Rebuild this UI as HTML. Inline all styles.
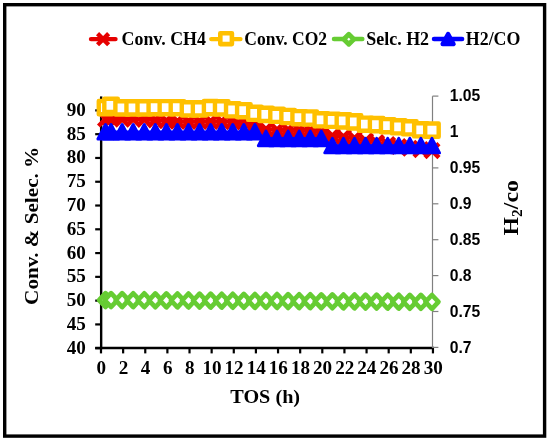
<!DOCTYPE html>
<html><head><meta charset="utf-8"><title>Chart</title>
<style>
html,body{margin:0;padding:0;background:#fff;}
body{width:550px;height:442px;overflow:hidden;}
svg{display:block}
text{font-family:"Liberation Serif",serif;font-weight:bold;fill:#000}
.yl{font-size:18px}
.xl{font-size:18px}
.rl{font-family:"Liberation Sans",sans-serif;font-size:15.7px}
.lg{font-size:17.8px}
.yt{font-size:19.3px}
.xt{font-size:19.5px}
.rt{font-size:21.5px}
</style></head><body>
<svg width="550" height="442" viewBox="0 0 550 442">
<rect x="0" y="0" width="550" height="442" fill="#fff"/>
<rect x="4.7" y="4.7" width="539.9" height="431.4" fill="none" stroke="#000" stroke-width="3.4"/>
<line x1="101.15" y1="96.4" x2="101.15" y2="349.2" stroke="#000" stroke-width="2.4"/>
<line x1="95.2" y1="348.0" x2="433.9" y2="348.0" stroke="#000" stroke-width="2.4"/>
<line x1="95.2" y1="348.20" x2="101.2" y2="348.20" stroke="#000" stroke-width="2.2"/>
<text x="66.7" y="353.70" textLength="19.1" lengthAdjust="spacingAndGlyphs" class="yl">40</text>
<line x1="95.2" y1="324.42" x2="101.2" y2="324.42" stroke="#000" stroke-width="2.2"/>
<text x="66.7" y="329.92" textLength="19.1" lengthAdjust="spacingAndGlyphs" class="yl">45</text>
<line x1="95.2" y1="300.64" x2="101.2" y2="300.64" stroke="#000" stroke-width="2.2"/>
<text x="66.7" y="306.14" textLength="19.1" lengthAdjust="spacingAndGlyphs" class="yl">50</text>
<line x1="95.2" y1="276.86" x2="101.2" y2="276.86" stroke="#000" stroke-width="2.2"/>
<text x="66.7" y="282.36" textLength="19.1" lengthAdjust="spacingAndGlyphs" class="yl">55</text>
<line x1="95.2" y1="253.08" x2="101.2" y2="253.08" stroke="#000" stroke-width="2.2"/>
<text x="66.7" y="258.58" textLength="19.1" lengthAdjust="spacingAndGlyphs" class="yl">60</text>
<line x1="95.2" y1="229.30" x2="101.2" y2="229.30" stroke="#000" stroke-width="2.2"/>
<text x="66.7" y="234.80" textLength="19.1" lengthAdjust="spacingAndGlyphs" class="yl">65</text>
<line x1="95.2" y1="205.52" x2="101.2" y2="205.52" stroke="#000" stroke-width="2.2"/>
<text x="66.7" y="211.02" textLength="19.1" lengthAdjust="spacingAndGlyphs" class="yl">70</text>
<line x1="95.2" y1="181.74" x2="101.2" y2="181.74" stroke="#000" stroke-width="2.2"/>
<text x="66.7" y="187.24" textLength="19.1" lengthAdjust="spacingAndGlyphs" class="yl">75</text>
<line x1="95.2" y1="157.96" x2="101.2" y2="157.96" stroke="#000" stroke-width="2.2"/>
<text x="66.7" y="163.46" textLength="19.1" lengthAdjust="spacingAndGlyphs" class="yl">80</text>
<line x1="95.2" y1="134.18" x2="101.2" y2="134.18" stroke="#000" stroke-width="2.2"/>
<text x="66.7" y="139.68" textLength="19.1" lengthAdjust="spacingAndGlyphs" class="yl">85</text>
<line x1="95.2" y1="110.40" x2="101.2" y2="110.40" stroke="#000" stroke-width="2.2"/>
<text x="66.7" y="115.90" textLength="19.1" lengthAdjust="spacingAndGlyphs" class="yl">90</text>
<line x1="101.00" y1="348.2" x2="101.00" y2="353.4" stroke="#000" stroke-width="2.2"/>
<text x="96.52" y="373.6" textLength="9.55" lengthAdjust="spacingAndGlyphs" class="xl">0</text>
<line x1="123.13" y1="348.2" x2="123.13" y2="353.4" stroke="#000" stroke-width="2.2"/>
<text x="118.65" y="373.6" textLength="9.55" lengthAdjust="spacingAndGlyphs" class="xl">2</text>
<line x1="145.26" y1="348.2" x2="145.26" y2="353.4" stroke="#000" stroke-width="2.2"/>
<text x="140.78" y="373.6" textLength="9.55" lengthAdjust="spacingAndGlyphs" class="xl">4</text>
<line x1="167.39" y1="348.2" x2="167.39" y2="353.4" stroke="#000" stroke-width="2.2"/>
<text x="162.91" y="373.6" textLength="9.55" lengthAdjust="spacingAndGlyphs" class="xl">6</text>
<line x1="189.52" y1="348.2" x2="189.52" y2="353.4" stroke="#000" stroke-width="2.2"/>
<text x="185.04" y="373.6" textLength="9.55" lengthAdjust="spacingAndGlyphs" class="xl">8</text>
<line x1="211.65" y1="348.2" x2="211.65" y2="353.4" stroke="#000" stroke-width="2.2"/>
<text x="202.40" y="373.6" textLength="19.10" lengthAdjust="spacingAndGlyphs" class="xl">10</text>
<line x1="233.78" y1="348.2" x2="233.78" y2="353.4" stroke="#000" stroke-width="2.2"/>
<text x="224.53" y="373.6" textLength="19.10" lengthAdjust="spacingAndGlyphs" class="xl">12</text>
<line x1="255.91" y1="348.2" x2="255.91" y2="353.4" stroke="#000" stroke-width="2.2"/>
<text x="246.66" y="373.6" textLength="19.10" lengthAdjust="spacingAndGlyphs" class="xl">14</text>
<line x1="278.04" y1="348.2" x2="278.04" y2="353.4" stroke="#000" stroke-width="2.2"/>
<text x="268.79" y="373.6" textLength="19.10" lengthAdjust="spacingAndGlyphs" class="xl">16</text>
<line x1="300.17" y1="348.2" x2="300.17" y2="353.4" stroke="#000" stroke-width="2.2"/>
<text x="290.92" y="373.6" textLength="19.10" lengthAdjust="spacingAndGlyphs" class="xl">18</text>
<line x1="322.30" y1="348.2" x2="322.30" y2="353.4" stroke="#000" stroke-width="2.2"/>
<text x="313.05" y="373.6" textLength="19.10" lengthAdjust="spacingAndGlyphs" class="xl">20</text>
<line x1="344.43" y1="348.2" x2="344.43" y2="353.4" stroke="#000" stroke-width="2.2"/>
<text x="335.18" y="373.6" textLength="19.10" lengthAdjust="spacingAndGlyphs" class="xl">22</text>
<line x1="366.56" y1="348.2" x2="366.56" y2="353.4" stroke="#000" stroke-width="2.2"/>
<text x="357.31" y="373.6" textLength="19.10" lengthAdjust="spacingAndGlyphs" class="xl">24</text>
<line x1="388.69" y1="348.2" x2="388.69" y2="353.4" stroke="#000" stroke-width="2.2"/>
<text x="379.44" y="373.6" textLength="19.10" lengthAdjust="spacingAndGlyphs" class="xl">26</text>
<line x1="410.82" y1="348.2" x2="410.82" y2="353.4" stroke="#000" stroke-width="2.2"/>
<text x="401.57" y="373.6" textLength="19.10" lengthAdjust="spacingAndGlyphs" class="xl">28</text>
<line x1="432.95" y1="348.2" x2="432.95" y2="353.4" stroke="#000" stroke-width="2.2"/>
<text x="423.70" y="373.6" textLength="19.10" lengthAdjust="spacingAndGlyphs" class="xl">30</text>
<line x1="432.5" y1="96.2" x2="432.5" y2="348" stroke="#808080" stroke-width="1.2"/>
<line x1="432.5" y1="347.40" x2="438.4" y2="347.40" stroke="#808080" stroke-width="1.2"/>
<text x="449.7" y="352.60" class="rl">0.7</text>
<line x1="432.5" y1="311.50" x2="438.4" y2="311.50" stroke="#808080" stroke-width="1.2"/>
<text x="449.7" y="316.60" class="rl">0.75</text>
<line x1="432.5" y1="275.60" x2="438.4" y2="275.60" stroke="#808080" stroke-width="1.2"/>
<text x="449.7" y="280.60" class="rl">0.8</text>
<line x1="432.5" y1="239.70" x2="438.4" y2="239.70" stroke="#808080" stroke-width="1.2"/>
<text x="449.7" y="244.60" class="rl">0.85</text>
<line x1="432.5" y1="203.80" x2="438.4" y2="203.80" stroke="#808080" stroke-width="1.2"/>
<text x="449.7" y="208.60" class="rl">0.9</text>
<line x1="432.5" y1="167.90" x2="438.4" y2="167.90" stroke="#808080" stroke-width="1.2"/>
<text x="449.7" y="172.60" class="rl">0.95</text>
<line x1="432.5" y1="132.00" x2="438.4" y2="132.00" stroke="#808080" stroke-width="1.2"/>
<text x="449.7" y="136.60" class="rl">1</text>
<line x1="432.5" y1="96.10" x2="438.4" y2="96.10" stroke="#808080" stroke-width="1.2"/>
<text x="449.7" y="100.60" class="rl">1.05</text>
<polyline points="105.53,119.00 111.06,119.00 122.13,119.10 133.19,119.20 144.26,119.40 155.32,119.90 166.39,120.70 177.45,121.30 188.52,121.40 199.58,121.40 210.65,121.40 221.71,121.40 232.78,121.60 243.84,122.00 254.91,124.80 265.98,129.30 277.04,129.70 288.11,129.70 299.17,129.70 310.24,130.00 321.30,131.50 332.37,135.80 343.43,136.80 354.50,138.30 365.56,140.70 376.62,142.60 387.69,144.50 398.75,146.50 409.82,148.20 420.88,149.60 431.95,150.60" fill="none" stroke="#E60000" stroke-width="4.4" stroke-linejoin="round"/>
<path d="M98.53 112.00L112.53 126.00M98.53 126.00L112.53 112.00M104.06 112.00L118.06 126.00M104.06 126.00L118.06 112.00M115.13 112.10L129.13 126.10M115.13 126.10L129.13 112.10M126.19 112.20L140.19 126.20M126.19 126.20L140.19 112.20M137.26 112.40L151.26 126.40M137.26 126.40L151.26 112.40M148.32 112.90L162.32 126.90M148.32 126.90L162.32 112.90M159.39 113.70L173.39 127.70M159.39 127.70L173.39 113.70M170.45 114.30L184.45 128.30M170.45 128.30L184.45 114.30M181.52 114.40L195.52 128.40M181.52 128.40L195.52 114.40M192.58 114.40L206.58 128.40M192.58 128.40L206.58 114.40M203.65 114.40L217.65 128.40M203.65 128.40L217.65 114.40M214.71 114.40L228.71 128.40M214.71 128.40L228.71 114.40M225.78 114.60L239.78 128.60M225.78 128.60L239.78 114.60M236.84 115.00L250.84 129.00M236.84 129.00L250.84 115.00M247.91 117.80L261.91 131.80M247.91 131.80L261.91 117.80M258.98 122.30L272.98 136.30M258.98 136.30L272.98 122.30M270.04 122.70L284.04 136.70M270.04 136.70L284.04 122.70M281.11 122.70L295.11 136.70M281.11 136.70L295.11 122.70M292.17 122.70L306.17 136.70M292.17 136.70L306.17 122.70M303.24 123.00L317.24 137.00M303.24 137.00L317.24 123.00M314.30 124.50L328.30 138.50M314.30 138.50L328.30 124.50M325.37 128.80L339.37 142.80M325.37 142.80L339.37 128.80M336.43 129.80L350.43 143.80M336.43 143.80L350.43 129.80M347.50 131.30L361.50 145.30M347.50 145.30L361.50 131.30M358.56 133.70L372.56 147.70M358.56 147.70L372.56 133.70M369.62 135.60L383.62 149.60M369.62 149.60L383.62 135.60M380.69 137.50L394.69 151.50M380.69 151.50L394.69 137.50M391.75 139.50L405.75 153.50M391.75 153.50L405.75 139.50M402.82 141.20L416.82 155.20M402.82 155.20L416.82 141.20M413.88 142.60L427.88 156.60M413.88 156.60L427.88 142.60M424.95 143.60L438.95 157.60M424.95 157.60L438.95 143.60" fill="none" stroke="#E60000" stroke-width="4.4" stroke-linecap="butt"/>
<polyline points="105.53,107.60 111.06,105.40 122.13,107.90 133.19,107.90 144.26,107.90 155.32,107.70 166.39,107.70 177.45,107.70 188.52,108.90 199.58,108.90 210.65,107.60 221.71,107.90 232.78,109.80 243.84,110.70 254.91,113.30 265.98,114.40 277.04,115.30 288.11,116.50 299.17,117.70 310.24,118.00 321.30,119.80 332.37,120.30 343.43,120.90 354.50,121.90 365.56,124.20 376.62,124.60 387.69,125.70 398.75,126.80 409.82,127.80 420.88,129.80 431.95,130.10" fill="none" stroke="#FFC000" stroke-width="4.4"/>
<rect x="98.78" y="101.00" width="13.50" height="13.20" fill="#fff" stroke="#FFC000" stroke-width="4.4" stroke-linejoin="round"/>
<rect x="104.31" y="98.80" width="13.50" height="13.20" fill="#fff" stroke="#FFC000" stroke-width="4.4" stroke-linejoin="round"/>
<rect x="115.38" y="101.30" width="13.50" height="13.20" fill="#fff" stroke="#FFC000" stroke-width="4.4" stroke-linejoin="round"/>
<rect x="126.44" y="101.30" width="13.50" height="13.20" fill="#fff" stroke="#FFC000" stroke-width="4.4" stroke-linejoin="round"/>
<rect x="137.51" y="101.30" width="13.50" height="13.20" fill="#fff" stroke="#FFC000" stroke-width="4.4" stroke-linejoin="round"/>
<rect x="148.57" y="101.10" width="13.50" height="13.20" fill="#fff" stroke="#FFC000" stroke-width="4.4" stroke-linejoin="round"/>
<rect x="159.64" y="101.10" width="13.50" height="13.20" fill="#fff" stroke="#FFC000" stroke-width="4.4" stroke-linejoin="round"/>
<rect x="170.70" y="101.10" width="13.50" height="13.20" fill="#fff" stroke="#FFC000" stroke-width="4.4" stroke-linejoin="round"/>
<rect x="181.77" y="102.30" width="13.50" height="13.20" fill="#fff" stroke="#FFC000" stroke-width="4.4" stroke-linejoin="round"/>
<rect x="192.83" y="102.30" width="13.50" height="13.20" fill="#fff" stroke="#FFC000" stroke-width="4.4" stroke-linejoin="round"/>
<rect x="203.90" y="101.00" width="13.50" height="13.20" fill="#fff" stroke="#FFC000" stroke-width="4.4" stroke-linejoin="round"/>
<rect x="214.96" y="101.30" width="13.50" height="13.20" fill="#fff" stroke="#FFC000" stroke-width="4.4" stroke-linejoin="round"/>
<rect x="226.03" y="103.20" width="13.50" height="13.20" fill="#fff" stroke="#FFC000" stroke-width="4.4" stroke-linejoin="round"/>
<rect x="237.09" y="104.10" width="13.50" height="13.20" fill="#fff" stroke="#FFC000" stroke-width="4.4" stroke-linejoin="round"/>
<rect x="248.16" y="106.70" width="13.50" height="13.20" fill="#fff" stroke="#FFC000" stroke-width="4.4" stroke-linejoin="round"/>
<rect x="259.23" y="107.80" width="13.50" height="13.20" fill="#fff" stroke="#FFC000" stroke-width="4.4" stroke-linejoin="round"/>
<rect x="270.29" y="108.70" width="13.50" height="13.20" fill="#fff" stroke="#FFC000" stroke-width="4.4" stroke-linejoin="round"/>
<rect x="281.36" y="109.90" width="13.50" height="13.20" fill="#fff" stroke="#FFC000" stroke-width="4.4" stroke-linejoin="round"/>
<rect x="292.42" y="111.10" width="13.50" height="13.20" fill="#fff" stroke="#FFC000" stroke-width="4.4" stroke-linejoin="round"/>
<rect x="303.49" y="111.40" width="13.50" height="13.20" fill="#fff" stroke="#FFC000" stroke-width="4.4" stroke-linejoin="round"/>
<rect x="314.55" y="113.20" width="13.50" height="13.20" fill="#fff" stroke="#FFC000" stroke-width="4.4" stroke-linejoin="round"/>
<rect x="325.62" y="113.70" width="13.50" height="13.20" fill="#fff" stroke="#FFC000" stroke-width="4.4" stroke-linejoin="round"/>
<rect x="336.68" y="114.30" width="13.50" height="13.20" fill="#fff" stroke="#FFC000" stroke-width="4.4" stroke-linejoin="round"/>
<rect x="347.75" y="115.30" width="13.50" height="13.20" fill="#fff" stroke="#FFC000" stroke-width="4.4" stroke-linejoin="round"/>
<rect x="358.81" y="117.60" width="13.50" height="13.20" fill="#fff" stroke="#FFC000" stroke-width="4.4" stroke-linejoin="round"/>
<rect x="369.88" y="118.00" width="13.50" height="13.20" fill="#fff" stroke="#FFC000" stroke-width="4.4" stroke-linejoin="round"/>
<rect x="380.94" y="119.10" width="13.50" height="13.20" fill="#fff" stroke="#FFC000" stroke-width="4.4" stroke-linejoin="round"/>
<rect x="392.00" y="120.20" width="13.50" height="13.20" fill="#fff" stroke="#FFC000" stroke-width="4.4" stroke-linejoin="round"/>
<rect x="403.07" y="121.20" width="13.50" height="13.20" fill="#fff" stroke="#FFC000" stroke-width="4.4" stroke-linejoin="round"/>
<rect x="414.13" y="123.20" width="13.50" height="13.20" fill="#fff" stroke="#FFC000" stroke-width="4.4" stroke-linejoin="round"/>
<rect x="425.20" y="123.50" width="13.50" height="13.20" fill="#fff" stroke="#FFC000" stroke-width="4.4" stroke-linejoin="round"/>
<polyline points="105.53,300.03 111.06,300.06 122.13,300.13 133.19,300.19 144.26,300.25 155.32,300.32 166.39,300.38 177.45,300.44 188.52,300.51 199.58,300.57 210.65,300.63 221.71,300.70 232.78,300.76 243.84,300.82 254.91,300.89 265.98,300.95 277.04,301.01 288.11,301.08 299.17,301.14 310.24,301.20 321.30,301.27 332.37,301.33 343.43,301.39 354.50,301.46 365.56,301.52 376.62,301.58 387.69,301.65 398.75,301.71 409.82,301.77 420.88,301.84 431.95,301.90" fill="none" stroke="#66CC33" stroke-width="4.4"/>
<polygon points="99.03,300.03 105.53,293.13 112.03,300.03 105.53,306.93" fill="#fff" stroke="#66CC33" stroke-width="4.7" stroke-linejoin="round"/>
<polygon points="104.56,300.06 111.06,293.16 117.56,300.06 111.06,306.96" fill="#fff" stroke="#66CC33" stroke-width="4.7" stroke-linejoin="round"/>
<polygon points="115.63,300.13 122.13,293.23 128.63,300.13 122.13,307.03" fill="#fff" stroke="#66CC33" stroke-width="4.7" stroke-linejoin="round"/>
<polygon points="126.69,300.19 133.19,293.29 139.69,300.19 133.19,307.09" fill="#fff" stroke="#66CC33" stroke-width="4.7" stroke-linejoin="round"/>
<polygon points="137.76,300.25 144.26,293.35 150.76,300.25 144.26,307.15" fill="#fff" stroke="#66CC33" stroke-width="4.7" stroke-linejoin="round"/>
<polygon points="148.82,300.32 155.32,293.42 161.82,300.32 155.32,307.22" fill="#fff" stroke="#66CC33" stroke-width="4.7" stroke-linejoin="round"/>
<polygon points="159.89,300.38 166.39,293.48 172.89,300.38 166.39,307.28" fill="#fff" stroke="#66CC33" stroke-width="4.7" stroke-linejoin="round"/>
<polygon points="170.95,300.44 177.45,293.54 183.95,300.44 177.45,307.34" fill="#fff" stroke="#66CC33" stroke-width="4.7" stroke-linejoin="round"/>
<polygon points="182.02,300.51 188.52,293.61 195.02,300.51 188.52,307.41" fill="#fff" stroke="#66CC33" stroke-width="4.7" stroke-linejoin="round"/>
<polygon points="193.08,300.57 199.58,293.67 206.08,300.57 199.58,307.47" fill="#fff" stroke="#66CC33" stroke-width="4.7" stroke-linejoin="round"/>
<polygon points="204.15,300.63 210.65,293.73 217.15,300.63 210.65,307.53" fill="#fff" stroke="#66CC33" stroke-width="4.7" stroke-linejoin="round"/>
<polygon points="215.21,300.70 221.71,293.80 228.21,300.70 221.71,307.60" fill="#fff" stroke="#66CC33" stroke-width="4.7" stroke-linejoin="round"/>
<polygon points="226.28,300.76 232.78,293.86 239.28,300.76 232.78,307.66" fill="#fff" stroke="#66CC33" stroke-width="4.7" stroke-linejoin="round"/>
<polygon points="237.34,300.82 243.84,293.92 250.34,300.82 243.84,307.72" fill="#fff" stroke="#66CC33" stroke-width="4.7" stroke-linejoin="round"/>
<polygon points="248.41,300.89 254.91,293.99 261.41,300.89 254.91,307.79" fill="#fff" stroke="#66CC33" stroke-width="4.7" stroke-linejoin="round"/>
<polygon points="259.48,300.95 265.98,294.05 272.48,300.95 265.98,307.85" fill="#fff" stroke="#66CC33" stroke-width="4.7" stroke-linejoin="round"/>
<polygon points="270.54,301.01 277.04,294.11 283.54,301.01 277.04,307.91" fill="#fff" stroke="#66CC33" stroke-width="4.7" stroke-linejoin="round"/>
<polygon points="281.61,301.08 288.11,294.18 294.61,301.08 288.11,307.98" fill="#fff" stroke="#66CC33" stroke-width="4.7" stroke-linejoin="round"/>
<polygon points="292.67,301.14 299.17,294.24 305.67,301.14 299.17,308.04" fill="#fff" stroke="#66CC33" stroke-width="4.7" stroke-linejoin="round"/>
<polygon points="303.74,301.20 310.24,294.30 316.74,301.20 310.24,308.10" fill="#fff" stroke="#66CC33" stroke-width="4.7" stroke-linejoin="round"/>
<polygon points="314.80,301.27 321.30,294.37 327.80,301.27 321.30,308.17" fill="#fff" stroke="#66CC33" stroke-width="4.7" stroke-linejoin="round"/>
<polygon points="325.87,301.33 332.37,294.43 338.87,301.33 332.37,308.23" fill="#fff" stroke="#66CC33" stroke-width="4.7" stroke-linejoin="round"/>
<polygon points="336.93,301.39 343.43,294.49 349.93,301.39 343.43,308.29" fill="#fff" stroke="#66CC33" stroke-width="4.7" stroke-linejoin="round"/>
<polygon points="348.00,301.46 354.50,294.56 361.00,301.46 354.50,308.36" fill="#fff" stroke="#66CC33" stroke-width="4.7" stroke-linejoin="round"/>
<polygon points="359.06,301.52 365.56,294.62 372.06,301.52 365.56,308.42" fill="#fff" stroke="#66CC33" stroke-width="4.7" stroke-linejoin="round"/>
<polygon points="370.12,301.58 376.62,294.68 383.12,301.58 376.62,308.48" fill="#fff" stroke="#66CC33" stroke-width="4.7" stroke-linejoin="round"/>
<polygon points="381.19,301.65 387.69,294.75 394.19,301.65 387.69,308.55" fill="#fff" stroke="#66CC33" stroke-width="4.7" stroke-linejoin="round"/>
<polygon points="392.25,301.71 398.75,294.81 405.25,301.71 398.75,308.61" fill="#fff" stroke="#66CC33" stroke-width="4.7" stroke-linejoin="round"/>
<polygon points="403.32,301.77 409.82,294.87 416.32,301.77 409.82,308.67" fill="#fff" stroke="#66CC33" stroke-width="4.7" stroke-linejoin="round"/>
<polygon points="414.38,301.84 420.88,294.94 427.38,301.84 420.88,308.74" fill="#fff" stroke="#66CC33" stroke-width="4.7" stroke-linejoin="round"/>
<polygon points="425.45,301.90 431.95,295.00 438.45,301.90 431.95,308.80" fill="#fff" stroke="#66CC33" stroke-width="4.7" stroke-linejoin="round"/>
<polyline points="105.53,131.80 111.06,131.80 122.13,131.80 133.19,131.80 144.26,131.80 155.32,131.80 166.39,131.80 177.45,131.80 188.52,131.80 199.58,131.80 210.65,131.80 221.71,131.80 232.78,131.80 243.84,131.80 254.91,131.80 265.98,138.40 277.04,138.40 288.11,138.40 299.17,138.40 310.24,138.40 321.30,138.40 332.37,145.60 343.43,145.60 354.50,145.60 365.56,145.60 376.62,145.60 387.69,145.60 398.75,145.60 409.82,145.60 420.88,145.60 431.95,145.60" fill="none" stroke="#0000FF" stroke-width="2.6"/>
<polygon points="105.53,124.55 113.13,139.05 97.93,139.05" fill="#0000FF" stroke="#0000FF" stroke-width="3.0" stroke-linejoin="round"/>
<polygon points="111.06,124.55 118.66,139.05 103.47,139.05" fill="#0000FF" stroke="#0000FF" stroke-width="3.0" stroke-linejoin="round"/>
<polygon points="122.13,124.55 129.73,139.05 114.53,139.05" fill="#0000FF" stroke="#0000FF" stroke-width="3.0" stroke-linejoin="round"/>
<polygon points="133.19,124.55 140.79,139.05 125.59,139.05" fill="#0000FF" stroke="#0000FF" stroke-width="3.0" stroke-linejoin="round"/>
<polygon points="144.26,124.55 151.86,139.05 136.66,139.05" fill="#0000FF" stroke="#0000FF" stroke-width="3.0" stroke-linejoin="round"/>
<polygon points="155.32,124.55 162.92,139.05 147.72,139.05" fill="#0000FF" stroke="#0000FF" stroke-width="3.0" stroke-linejoin="round"/>
<polygon points="166.39,124.55 173.99,139.05 158.79,139.05" fill="#0000FF" stroke="#0000FF" stroke-width="3.0" stroke-linejoin="round"/>
<polygon points="177.45,124.55 185.05,139.05 169.85,139.05" fill="#0000FF" stroke="#0000FF" stroke-width="3.0" stroke-linejoin="round"/>
<polygon points="188.52,124.55 196.12,139.05 180.92,139.05" fill="#0000FF" stroke="#0000FF" stroke-width="3.0" stroke-linejoin="round"/>
<polygon points="199.58,124.55 207.18,139.05 191.98,139.05" fill="#0000FF" stroke="#0000FF" stroke-width="3.0" stroke-linejoin="round"/>
<polygon points="210.65,124.55 218.25,139.05 203.05,139.05" fill="#0000FF" stroke="#0000FF" stroke-width="3.0" stroke-linejoin="round"/>
<polygon points="221.71,124.55 229.31,139.05 214.11,139.05" fill="#0000FF" stroke="#0000FF" stroke-width="3.0" stroke-linejoin="round"/>
<polygon points="232.78,124.55 240.38,139.05 225.18,139.05" fill="#0000FF" stroke="#0000FF" stroke-width="3.0" stroke-linejoin="round"/>
<polygon points="243.84,124.55 251.44,139.05 236.25,139.05" fill="#0000FF" stroke="#0000FF" stroke-width="3.0" stroke-linejoin="round"/>
<polygon points="254.91,124.55 262.51,139.05 247.31,139.05" fill="#0000FF" stroke="#0000FF" stroke-width="3.0" stroke-linejoin="round"/>
<polygon points="265.98,131.15 273.58,145.65 258.38,145.65" fill="#0000FF" stroke="#0000FF" stroke-width="3.0" stroke-linejoin="round"/>
<polygon points="277.04,131.15 284.64,145.65 269.44,145.65" fill="#0000FF" stroke="#0000FF" stroke-width="3.0" stroke-linejoin="round"/>
<polygon points="288.11,131.15 295.71,145.65 280.50,145.65" fill="#0000FF" stroke="#0000FF" stroke-width="3.0" stroke-linejoin="round"/>
<polygon points="299.17,131.15 306.77,145.65 291.57,145.65" fill="#0000FF" stroke="#0000FF" stroke-width="3.0" stroke-linejoin="round"/>
<polygon points="310.24,131.15 317.84,145.65 302.63,145.65" fill="#0000FF" stroke="#0000FF" stroke-width="3.0" stroke-linejoin="round"/>
<polygon points="321.30,131.15 328.90,145.65 313.70,145.65" fill="#0000FF" stroke="#0000FF" stroke-width="3.0" stroke-linejoin="round"/>
<polygon points="332.37,138.35 339.97,152.85 324.76,152.85" fill="#0000FF" stroke="#0000FF" stroke-width="3.0" stroke-linejoin="round"/>
<polygon points="343.43,138.35 351.03,152.85 335.83,152.85" fill="#0000FF" stroke="#0000FF" stroke-width="3.0" stroke-linejoin="round"/>
<polygon points="354.50,138.35 362.10,152.85 346.89,152.85" fill="#0000FF" stroke="#0000FF" stroke-width="3.0" stroke-linejoin="round"/>
<polygon points="365.56,138.35 373.16,152.85 357.96,152.85" fill="#0000FF" stroke="#0000FF" stroke-width="3.0" stroke-linejoin="round"/>
<polygon points="376.62,138.35 384.23,152.85 369.02,152.85" fill="#0000FF" stroke="#0000FF" stroke-width="3.0" stroke-linejoin="round"/>
<polygon points="387.69,138.35 395.29,152.85 380.09,152.85" fill="#0000FF" stroke="#0000FF" stroke-width="3.0" stroke-linejoin="round"/>
<polygon points="398.75,138.35 406.36,152.85 391.15,152.85" fill="#0000FF" stroke="#0000FF" stroke-width="3.0" stroke-linejoin="round"/>
<polygon points="409.82,138.35 417.42,152.85 402.22,152.85" fill="#0000FF" stroke="#0000FF" stroke-width="3.0" stroke-linejoin="round"/>
<polygon points="420.88,138.35 428.49,152.85 413.28,152.85" fill="#0000FF" stroke="#0000FF" stroke-width="3.0" stroke-linejoin="round"/>
<polygon points="431.95,138.35 439.55,152.85 424.35,152.85" fill="#0000FF" stroke="#0000FF" stroke-width="3.0" stroke-linejoin="round"/>

<line x1="91" y1="39.1" x2="115.5" y2="39.1" stroke="#E60000" stroke-width="4.4" stroke-linecap="round"/>
<path d="M97.55 33.65L108.65 44.75M97.55 44.75L108.65 33.65" stroke="#E60000" stroke-width="4.4" fill="none"/>
<text x="121.6" y="44.6" textLength="84.3" lengthAdjust="spacingAndGlyphs" class="lg">Conv. CH4</text>
<line x1="211.3" y1="39.1" x2="240.4" y2="39.1" stroke="#FFC000" stroke-width="4.4" stroke-linecap="round"/>
<rect x="220.3" y="33.2" width="11.6" height="10.9" fill="#fff" stroke="#FFC000" stroke-width="4.6" stroke-linejoin="round"/>
<text x="244.3" y="44.6" textLength="82.8" lengthAdjust="spacingAndGlyphs" class="lg">Conv. CO2</text>
<line x1="334" y1="39.1" x2="362.3" y2="39.1" stroke="#66CC33" stroke-width="4.5" stroke-linecap="round"/>
<polygon points="343.8,39.2 348.8,34.2 353.8,39.2 348.8,44.2" fill="#fff" stroke="#66CC33" stroke-width="4.8" stroke-linejoin="round"/>
<text x="366.3" y="44.6" textLength="62.8" lengthAdjust="spacingAndGlyphs" class="lg">Selc. H2</text>
<line x1="434" y1="39.1" x2="462.1" y2="39.1" stroke="#0000FF" stroke-width="4.5" stroke-linecap="round"/>
<polygon points="448.1,34.0 453.55,44.1 442.65,44.1" fill="#0000FF" stroke="#0000FF" stroke-width="4.4" stroke-linejoin="round"/>
<text x="465.8" y="44.6" textLength="54.6" lengthAdjust="spacingAndGlyphs" class="lg">H2/CO</text>


<text transform="translate(38.3,304.9) rotate(-90)" textLength="158.2" lengthAdjust="spacingAndGlyphs" class="yt">Conv. &amp; Selec. %</text>
<text x="230.3" y="402.6" textLength="69.8" lengthAdjust="spacingAndGlyphs" class="xt">TOS (h)</text>
<text transform="translate(518.1,235.4) rotate(-90)" textLength="55.2" lengthAdjust="spacingAndGlyphs" class="rt">H<tspan dy="4" font-size="14">2</tspan><tspan dy="-4">/co</tspan></text>

</svg>
</body></html>
